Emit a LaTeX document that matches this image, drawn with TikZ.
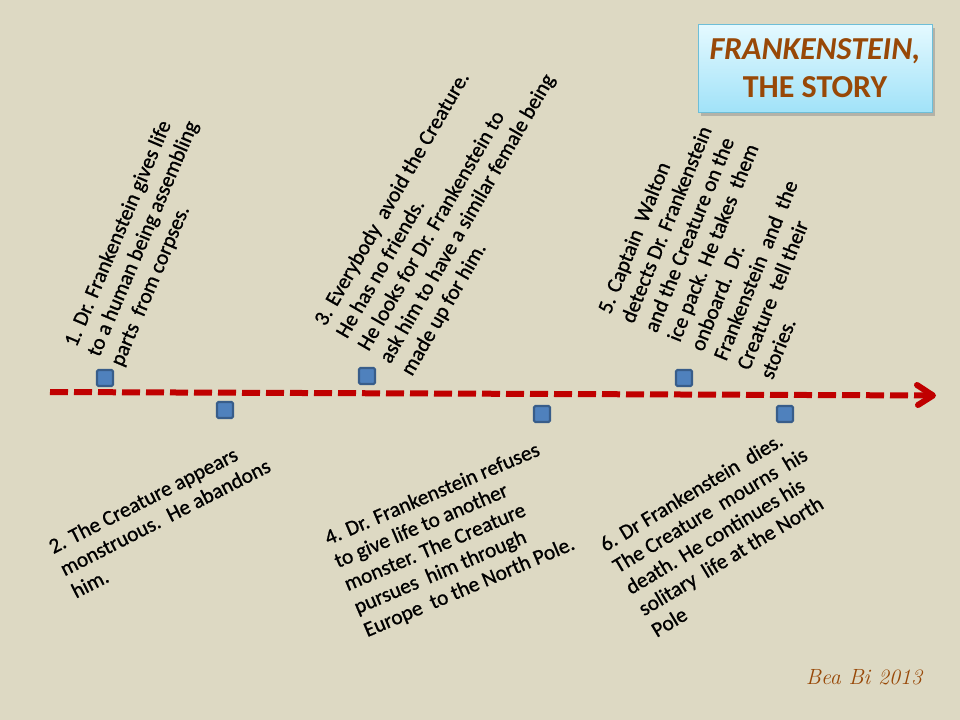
\documentclass[tikz,border=0pt]{standalone}
\usepackage{fontspec}
\setmainfont{Carlito}
\newfontfamily\storyfont[FakeBold=0.9]{Carlito}
\usetikzlibrary{calc,shadows}
\definecolor{bg}{RGB}{221,217,195}
\definecolor{dashred}{RGB}{192,0,0}
\definecolor{sqfill}{RGB}{79,129,189}
\definecolor{sqdraw}{RGB}{56,93,138}
\definecolor{titlebrown}{RGB}{152,72,7}
\definecolor{boxtop}{RGB}{228,249,255}
\definecolor{boxbot}{RGB}{160,226,248}
\definecolor{boxline}{RGB}{110,190,215}
\begin{document}
\begin{tikzpicture}[x=0.75pt,y=-0.75pt,
  marker/.style={draw=sqdraw, fill=sqfill, line width=1.6pt, minimum size=12pt, inner sep=0pt, rounded corners=1pt},
  story/.style={font=\storyfont\fontsize{16pt}{18.75pt}\selectfont, align=left, inner sep=0pt, anchor=north west, text=black},
  timeline/.style={draw=dashred, line width=4.5pt, dash pattern=on 13.5pt off 4.5pt},
  tiparrow/.style={draw=dashred, line width=4.5pt, line cap=round, line join=round},
  titlebox/.style={draw=boxline, line width=0.75pt, top color=boxtop, bottom color=boxbot, minimum width=175.5pt, minimum height=66pt, drop shadow={shadow xshift=2pt, shadow yshift=-2pt, fill=black!45, opacity=0.5}},
]
\fill[bg] (0,0) rectangle (960,720);
\useasboundingbox (0,0) rectangle (960,720);

% timeline
\coordinate (tstart) at (50,392);
\coordinate (ttip) at (933,395.5);
\coordinate (tarmA) at (917,385);
\coordinate (tarmB) at (918,405);
\draw[timeline] (tstart) -- (ttip);
\draw[tiparrow] (tarmA) -- (ttip) -- (tarmB);

% markers
\node[marker] (m1) at (105,378) {};
\node[marker] (m2) at (225,410) {};
\node[marker] (m3) at (367,376) {};
\node[marker] (m4) at (542,414) {};
\node[marker] (m5) at (684,378) {};
\node[marker] (m6) at (785,414) {};

% story texts
\coordinate (p1) at (76,348);
\coordinate (p2) at (53,554);
\coordinate (p3) at (325,327);
\coordinate (p4) at (328,545);
\coordinate (p5) at (610,315);
\coordinate (p6) at (605,552);

\node[story, rotate=67] (s1) at ($(p1)+(157:13.125pt)$)
  {\strut 1. Dr. Frankenstein gives life\\to a human being assembling\\parts\ \ from corpses.};
\node[story, rotate=27] (s2) at ($(p2)+(117:13.125pt)$)
  {\strut 2. The Creature appears\\monstruous.\ \ He abandons\\him.};
\node[story, rotate=60] (s3) at ($(p3)+(150:13.125pt)$)
  {\strut 3. Everybody\ \ avoid the Creature.\\He has no friends.\\He looks for Dr. Frankenstein to\\ask him to have a similar female being\\made up for him.};
\node[story, rotate=23] (s4) at ($(p4)+(113:13.125pt)$)
  {\strut 4. Dr. Frankenstein refuses\\to give life to another\\monster. The Creature\\pursues\ \ him through\\Europe\ \ to the North Pole.};
\node[story, rotate=68] (s5) at ($(p5)+(158:13.125pt)$)
  {\strut 5. Captain\ \ Walton\\detects Dr. Frankenstein\\and the Creature on the\\ice pack. He takes\ \ them\\onboard.\ \ Dr.\\Frankenstein\ \ and\ \ the\\Creature\ \ tell their\\stories.};
\node[story, rotate=31] (s6) at ($(p6)+(121:13.125pt)$)
  {\strut 6. Dr Frankenstein\ \ dies.\\The Creature\ \ mourns\ \ his\\death. He continues his\\solitary\ \ life at the North\\Pole};

% title
\node[titlebox] (tbox) at (815,69) {};
\node[font=\fontsize{24pt}{29pt}\selectfont\bfseries, text=titlebrown, align=center] (title) at (815,68)
  {\textit{FRANKENSTEIN,}\\THE STORY};

% signature
\node[font=\fontfamily{lmr}\fontsize{16.5pt}{19pt}\selectfont\itshape, text=titlebrown] (sig) at (864,677) {Bea Bi 2013};
\end{tikzpicture}
\end{document}
